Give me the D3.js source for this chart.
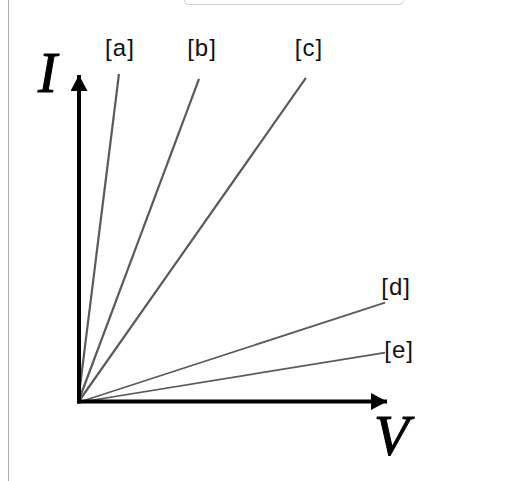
<!doctype html>
<html lang="en">
  <head>
    <meta charset="UTF-8" />
    <title>I-V graph</title>
    <script src="https://cdn.jsdelivr.net/npm/d3@7"></script>
    <style>
      html, body { margin: 0; padding: 0; background: #fff; }
      svg { display: block; }
    </style>
  </head>
  <body>
    <div id="graph-wrapper"></div>
    <script>
      // line names and where each one ends (V, I), in axis units 0-100
      const labels = ["[a]", "[b]", "[c]", "[d]", "[e]"];
      const endV = [13.3, 39.3, 74.0, 99.7, 99.7];
      const endI = [100, 98.5, 98.8, 30.4, 15.2];
      const axisNames = ["V", "I"];

      const width = 514;
      const height = 481;

      const svg = d3.select("#graph-wrapper").append("svg")
        .attr("width", width)
        .attr("height", height);

      // page furniture: left rule and the box peeking in at the top
      svg.append("line")
        .attr("x1", 8.5).attr("x2", 8.5)
        .attr("y1", 0).attr("y2", height)
        .attr("stroke", "#b0b0b0");
      svg.append("rect")
        .attr("x", 184.5).attr("y", -10)
        .attr("width", 219).attr("height", 14.5)
        .attr("rx", 4)
        .attr("fill", "#fff")
        .attr("stroke", "#cfcfcf");

      const x = d3.scaleLinear().domain([0, 100]).range([78, 386]);
      const y = d3.scaleLinear().domain([0, 100]).range([402.5, 74]);

      // arrow heads
      const defs = svg.append("defs");
      defs.append("marker")
        .attr("id", "arrow")
        .attr("viewBox", "0 0 16 17")
        .attr("refX", 16).attr("refY", 8.5)
        .attr("markerWidth", 16).attr("markerHeight", 17)
        .attr("markerUnits", "userSpaceOnUse")
        .attr("orient", "auto")
        .append("path")
        .attr("d", "M0,0L16,8.5L0,17Z")
        .attr("fill", "#000");

      // the data lines
      const line = d3.line().x(d => x(d[0])).y(d => y(d[1]));
      const series = labels.map((name, i) => ({
        name,
        points: [[0, 0], [endV[i], endI[i]]]
      }));

      svg.selectAll("path.iv")
        .data(series)
        .enter()
        .append("path")
        .attr("class", "iv")
        .attr("d", d => line(d.points))
        .attr("fill", "none")
        .attr("stroke", "#5a5a5a")
        .attr("stroke-width", (d, i) => endI[i] > 90 ? 2.2 : 1.7);

      // axes
      svg.append("line")
        .attr("x1", x(0) + 1).attr("y1", y(0) + 1)
        .attr("x2", x(0) + 1).attr("y2", y(100) + 1)
        .attr("stroke", "#000").attr("stroke-width", 4)
        .attr("marker-end", "url(#arrow)");
      svg.append("line")
        .attr("x1", x(0) - 1).attr("y1", y(0) - 1)
        .attr("x2", x(100) + 1).attr("y2", y(0) - 1)
        .attr("stroke", "#000").attr("stroke-width", 4)
        .attr("marker-end", "url(#arrow)");

      // labels at the line ends
      svg.selectAll("text.lbl")
        .data(series)
        .enter()
        .append("text")
        .attr("class", "lbl")
        .text(d => d.name)
        .attr("x", (d, i) => {
          if (endI[i] > 90) return x(endV[i]) + (i === 0 ? 1 : 3);
          return x(endV[i]) + (i === 3 ? 11 : 14);
        })
        .attr("y", (d, i) => {
          if (endI[i] > 90) return 56;
          return y(endI[i]) + (i === 3 ? -8 : 5);
        })
        .attr("text-anchor", "middle")
        .attr("font-family", "'Liberation Sans', Arial, sans-serif")
        .attr("font-size", 24)
        .attr("letter-spacing", 1)
        .attr("fill", "#111");

      // axis names
      const nameStyle = sel => sel
        .attr("font-family", "'Liberation Serif', 'Times New Roman', serif")
        .attr("font-style", "italic")
        .attr("font-size", 57)
        .attr("fill", "#000")
        .attr("stroke", "#000")
        .attr("stroke-width", 1);

      svg.append("text").text(axisNames[1])
        .attr("x", 38).attr("y", 91.5)
        .call(nameStyle);
      svg.append("text").text(axisNames[0])
        .attr("x", 374).attr("y", 455)
        .call(nameStyle);
    </script>
  </body>
</html>
